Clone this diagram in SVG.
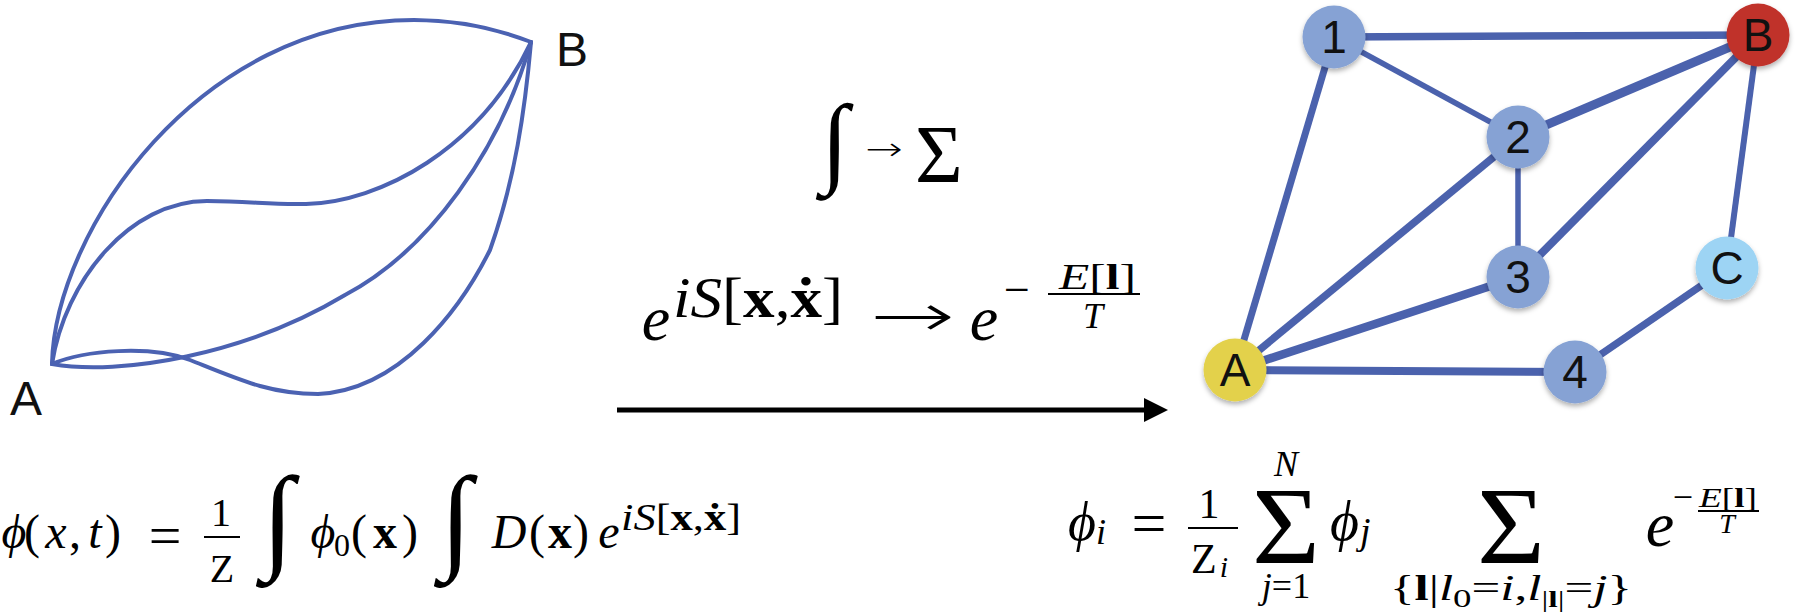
<svg xmlns="http://www.w3.org/2000/svg" width="1797" height="616" viewBox="0 0 1797 616">
<defs>
<style>
.curve{fill:none;stroke:#4b62b2;stroke-width:4;stroke-linecap:round;stroke-linejoin:round}
.edge{stroke:#4b62ad;stroke-linecap:butt}
.lbl{font-family:"Liberation Sans",Arial,sans-serif;font-size:46px;fill:#111;text-anchor:middle}
.plbl{font-family:"Liberation Sans",Arial,sans-serif;font-size:48px;fill:#111}
.m{font-family:"Liberation Serif","DejaVu Serif",serif;fill:#000}
.arr{font-family:"DejaVu Sans",sans-serif;font-weight:200;fill:#000;text-anchor:middle}
.i{font-style:italic}
.b{font-weight:bold}
.bar{stroke:#000;stroke-width:2}
.blue{fill:#86a2d4}
</style>
<filter id="sh" x="-30%" y="-30%" width="160%" height="170%">
<feDropShadow dx="0" dy="3" stdDeviation="2.5" flood-color="#000" flood-opacity="0.3"/>
</filter>
<marker id="head" markerUnits="userSpaceOnUse" markerWidth="26" markerHeight="26" refX="0" refY="12" orient="auto">
<path d="M0,0 L24,12 L0,24 Z" fill="#000"/>
</marker>
</defs>
<rect width="1797" height="616" fill="#fff"/>

<g id="paths">
<path class="curve" d="M52,364 C55,230 200,20 414,20 C460,20 500,30 531,42"/>
<path class="curve" d="M52,364 C65,280 130,201 207,201 C250,201 270,205 306,204 C380,202 480,150 531,42"/>
<path class="curve" d="M52,364 C120,376 245,355 345,295 C430,250 500,150 531,42"/>
<path class="curve" d="M52,364 C85,350 150,345 190,360 C240,380 270,394 318,394 C400,390 460,310 490,250 C515,180 525,110 531,42"/>
</g>
<text class="plbl" x="10" y="415">A</text>
<text class="plbl" x="556" y="66">B</text>

<g id="transform">
<text class="m" font-size="100" x="835" y="174" text-anchor="middle">∫</text>
<text class="arr" font-size="32" transform="translate(884,160) scale(1.4,1)">→</text>
<text class="m" font-size="82" x="915" y="182">Σ</text>

<text class="m i" font-size="64" x="656" y="340" text-anchor="middle">e</text>
<text class="m" font-size="56" x="673" y="317" textLength="170" lengthAdjust="spacingAndGlyphs"><tspan class="i">iS</tspan>[<tspan class="b">x</tspan>,<tspan class="b">ẋ</tspan>]</text>
<text class="arr" font-size="60" transform="translate(913,336) scale(1.7,1)">→</text>
<text class="m i" font-size="64" x="984" y="340" text-anchor="middle">e</text>
<text class="m" font-size="46" x="1017" y="305" text-anchor="middle">−</text>
<text class="m" font-size="36" x="1059" y="289" textLength="77" lengthAdjust="spacingAndGlyphs"><tspan class="i">E</tspan>[<tspan class="b">l</tspan>]</text>
<line class="bar" x1="1048" y1="294" x2="1140" y2="294"/>
<text class="m i" font-size="36" x="1093" y="328" text-anchor="middle">T</text>
</g>

<line x1="617" y1="410" x2="1144" y2="410" stroke="#000" stroke-width="5" marker-end="url(#head)"/>

<g id="connectors">
<line class="edge" stroke-width="7.5" x1="1334" y1="37" x2="1758" y2="35"/>
<line class="edge" stroke-width="5.5" x1="1334" y1="37" x2="1518" y2="137"/>
<line class="edge" stroke-width="7" x1="1334" y1="37" x2="1235" y2="370"/>
<line class="edge" stroke-width="9" x1="1518" y1="137" x2="1758" y2="35"/>
<line class="edge" stroke-width="7.5" x1="1518" y1="137" x2="1235" y2="370"/>
<line class="edge" stroke-width="5.5" x1="1518" y1="137" x2="1518" y2="277"/>
<line class="edge" stroke-width="8" x1="1518" y1="277" x2="1758" y2="35"/>
<line class="edge" stroke-width="8.5" x1="1518" y1="277" x2="1235" y2="370"/>
<line class="edge" stroke-width="6" x1="1758" y1="35" x2="1727" y2="268"/>
<line class="edge" stroke-width="7.5" x1="1727" y1="268" x2="1575" y2="372"/>
<line class="edge" stroke-width="8" x1="1235" y1="370" x2="1575" y2="372"/>
</g>

<g id="node-1"><circle class="blue" cx="1334" cy="37" r="31.5" filter="url(#sh)"/><text class="lbl" x="1334" y="53">1</text></g>
<g id="node-B"><circle fill="#c0302b" cx="1758" cy="35" r="31.5" filter="url(#sh)"/><text class="lbl" x="1758" y="51">B</text></g>
<g id="node-2"><circle class="blue" cx="1518" cy="137" r="31.5" filter="url(#sh)"/><text class="lbl" x="1518" y="153">2</text></g>
<g id="node-3"><circle class="blue" cx="1518" cy="277" r="31.5" filter="url(#sh)"/><text class="lbl" x="1518" y="293">3</text></g>
<g id="node-C"><circle fill="#9dd4f4" cx="1727" cy="268" r="31.5" filter="url(#sh)"/><text class="lbl" x="1727" y="284">C</text></g>
<g id="node-4"><circle class="blue" cx="1575" cy="372" r="31.5" filter="url(#sh)"/><text class="lbl" x="1575" y="388">4</text></g>
<g id="node-A"><circle fill="#e3d14c" cx="1235" cy="370" r="31.5" filter="url(#sh)"/><text class="lbl" x="1235" y="386">A</text></g>

<g id="formula-left">
<text class="m" font-size="48" y="548" text-anchor="middle"><tspan x="14" class="i">ϕ</tspan><tspan x="32">(</tspan><tspan x="56" class="i">x</tspan><tspan x="75">,</tspan><tspan x="95" class="i">t</tspan><tspan x="113">)</tspan></text>
<text class="m" font-size="58" x="165" y="555" text-anchor="middle">=</text>
<text class="m" font-size="40" x="221" y="526" text-anchor="middle">1</text>
<line class="bar" x1="204" y1="537" x2="240" y2="537"/>
<text class="m" font-size="40" x="222" y="582" text-anchor="middle">Z</text>
<text class="m" font-size="116" x="278" y="557" text-anchor="middle">∫</text>
<text class="m" font-size="48" y="548" text-anchor="middle"><tspan x="323" class="i">ϕ</tspan><tspan x="342" y="556" font-size="32">0</tspan><tspan x="359" y="548">(</tspan><tspan x="385" class="b">x</tspan><tspan x="410">)</tspan></text>
<text class="m" font-size="116" x="456" y="557" text-anchor="middle">∫</text>
<text class="m" font-size="48" y="548" text-anchor="middle"><tspan x="509" class="i">D</tspan><tspan x="537">(</tspan><tspan x="560" class="b">x</tspan><tspan x="581">)</tspan><tspan x="609" class="i">e</tspan></text>
<text class="m" font-size="38" x="621" y="530" textLength="120" lengthAdjust="spacingAndGlyphs"><tspan class="i">iS</tspan>[<tspan class="b">x</tspan>,<tspan class="b">ẋ</tspan>]</text>
</g>

<g id="formula-right">
<text class="m" font-size="54" x="1068" y="540"><tspan class="i">ϕ</tspan><tspan class="i" font-size="36" dy="4">i</tspan></text>
<text class="m" font-size="62" x="1149" y="544" text-anchor="middle">=</text>
<text class="m" font-size="42" x="1209" y="518" text-anchor="middle">1</text>
<line class="bar" x1="1188" y1="528" x2="1238" y2="528"/>
<text class="m" font-size="42" x="1191" y="573">Z<tspan class="i" font-size="30" dx="3" dy="4">i</tspan></text>
<text class="m i" font-size="36" x="1286" y="476" text-anchor="middle">N</text>
<text class="m" font-size="110" x="1252" y="563" textLength="68" lengthAdjust="spacingAndGlyphs">Σ</text>
<text class="m" font-size="36" x="1286" y="598" text-anchor="middle"><tspan class="i">j</tspan>=1</text>
<text class="m" font-size="56" x="1330" y="540"><tspan class="i">ϕ</tspan><tspan class="i" font-size="38" dx="1" dy="4">j</tspan></text>
<text class="m" font-size="110" x="1477" y="563" textLength="68" lengthAdjust="spacingAndGlyphs">Σ</text>
<text class="m" font-size="36" x="1390" y="600" textLength="242" lengthAdjust="spacingAndGlyphs">{<tspan class="b">l</tspan>|<tspan class="i">l</tspan><tspan font-size="26" dy="7">0</tspan><tspan dy="-7">=</tspan><tspan class="i">i</tspan>,<tspan class="i">l</tspan><tspan font-size="24" dy="7">|<tspan class="b">l</tspan>|</tspan><tspan dy="-7">=</tspan><tspan class="i">j</tspan>}</text>
<text class="m i" font-size="64" x="1660" y="546" text-anchor="middle">e</text>
<text class="m" font-size="36" x="1683" y="509" text-anchor="middle">−</text>
<text class="m" font-size="28" x="1699" y="507" textLength="58" lengthAdjust="spacingAndGlyphs"><tspan class="i">E</tspan>[<tspan class="b">l</tspan>]</text>
<line class="bar" x1="1698" y1="511" x2="1759" y2="511"/>
<text class="m i" font-size="28" x="1727" y="533" text-anchor="middle">T</text>
</g>
</svg>
